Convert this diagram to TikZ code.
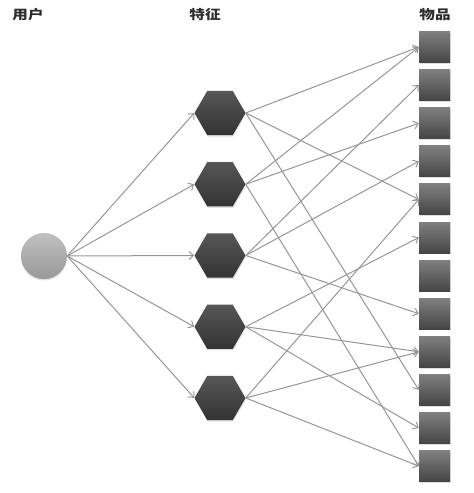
\documentclass[tikz,border=0pt]{standalone}
\usepackage{fontspec}
\newfontfamily\cjk[FakeStretch=1.2]{Noto Sans CJK SC}
\usetikzlibrary{arrows.meta,shapes.geometric,shadows}
\definecolor{edgegray}{HTML}{969696}
\definecolor{labelgray}{HTML}{2E2E2E}
\begin{document}
\begin{tikzpicture}[x=1pt,y=-1pt,
  lbl/.style={font=\cjk\bfseries\fontsize{13}{15}\selectfont, text=labelgray, inner sep=0pt},
  user/.style={circle, minimum size=46pt, inner sep=0pt, top color=gray!50, bottom color=gray!80,
    drop shadow={shadow xshift=0pt, shadow yshift=-1.5pt, opacity=0.25}},
  feat/.style={regular polygon, regular polygon sides=6, minimum size=51pt, inner sep=0pt,
    top color=black!66, bottom color=black!80,
    drop shadow={shadow xshift=0.5pt, shadow yshift=-1.5pt, opacity=0.25}},
  item/.style={rectangle, minimum size=31pt, inner sep=0pt, top color=black!50, bottom color=black!73,
    drop shadow={shadow xshift=0.5pt, shadow yshift=-1.2pt, opacity=0.25}},
  conn/.style={draw=edgegray, line width=1pt, -{Straight Barb[length=4.5pt,width=8pt]}}
]
\useasboundingbox (0,0) rectangle (474,493);
\node[lbl] (lu) at (28,15) {用户};
\node[lbl] (lf) at (205,15) {特征};
\node[lbl] (li) at (435,15) {物品};

\node[user] (u) at (44,256) {};
\foreach \k [evaluate=\k as \yy using {113+71.25*(\k-1)}] in {1,...,5}
  \node[feat] (h\k) at (220,\yy) {};
\foreach \k [evaluate=\k as \yy using {47+38.1*(\k-1)}] in {1,...,12}
  \node[item] (s\k) at (434.5,\yy) {};

\foreach \k in {1,...,5}
  \draw[conn] (u.east) -- (h\k.west);

\foreach \a/\b in {1/1,1/5,1/10, 2/1,2/3,2/12, 3/2,3/4,3/8, 4/6,4/9,4/11, 5/5,5/9,5/12}
  \draw[conn] (h\a.east) -- (s\b.west);
\end{tikzpicture}
\end{document}
